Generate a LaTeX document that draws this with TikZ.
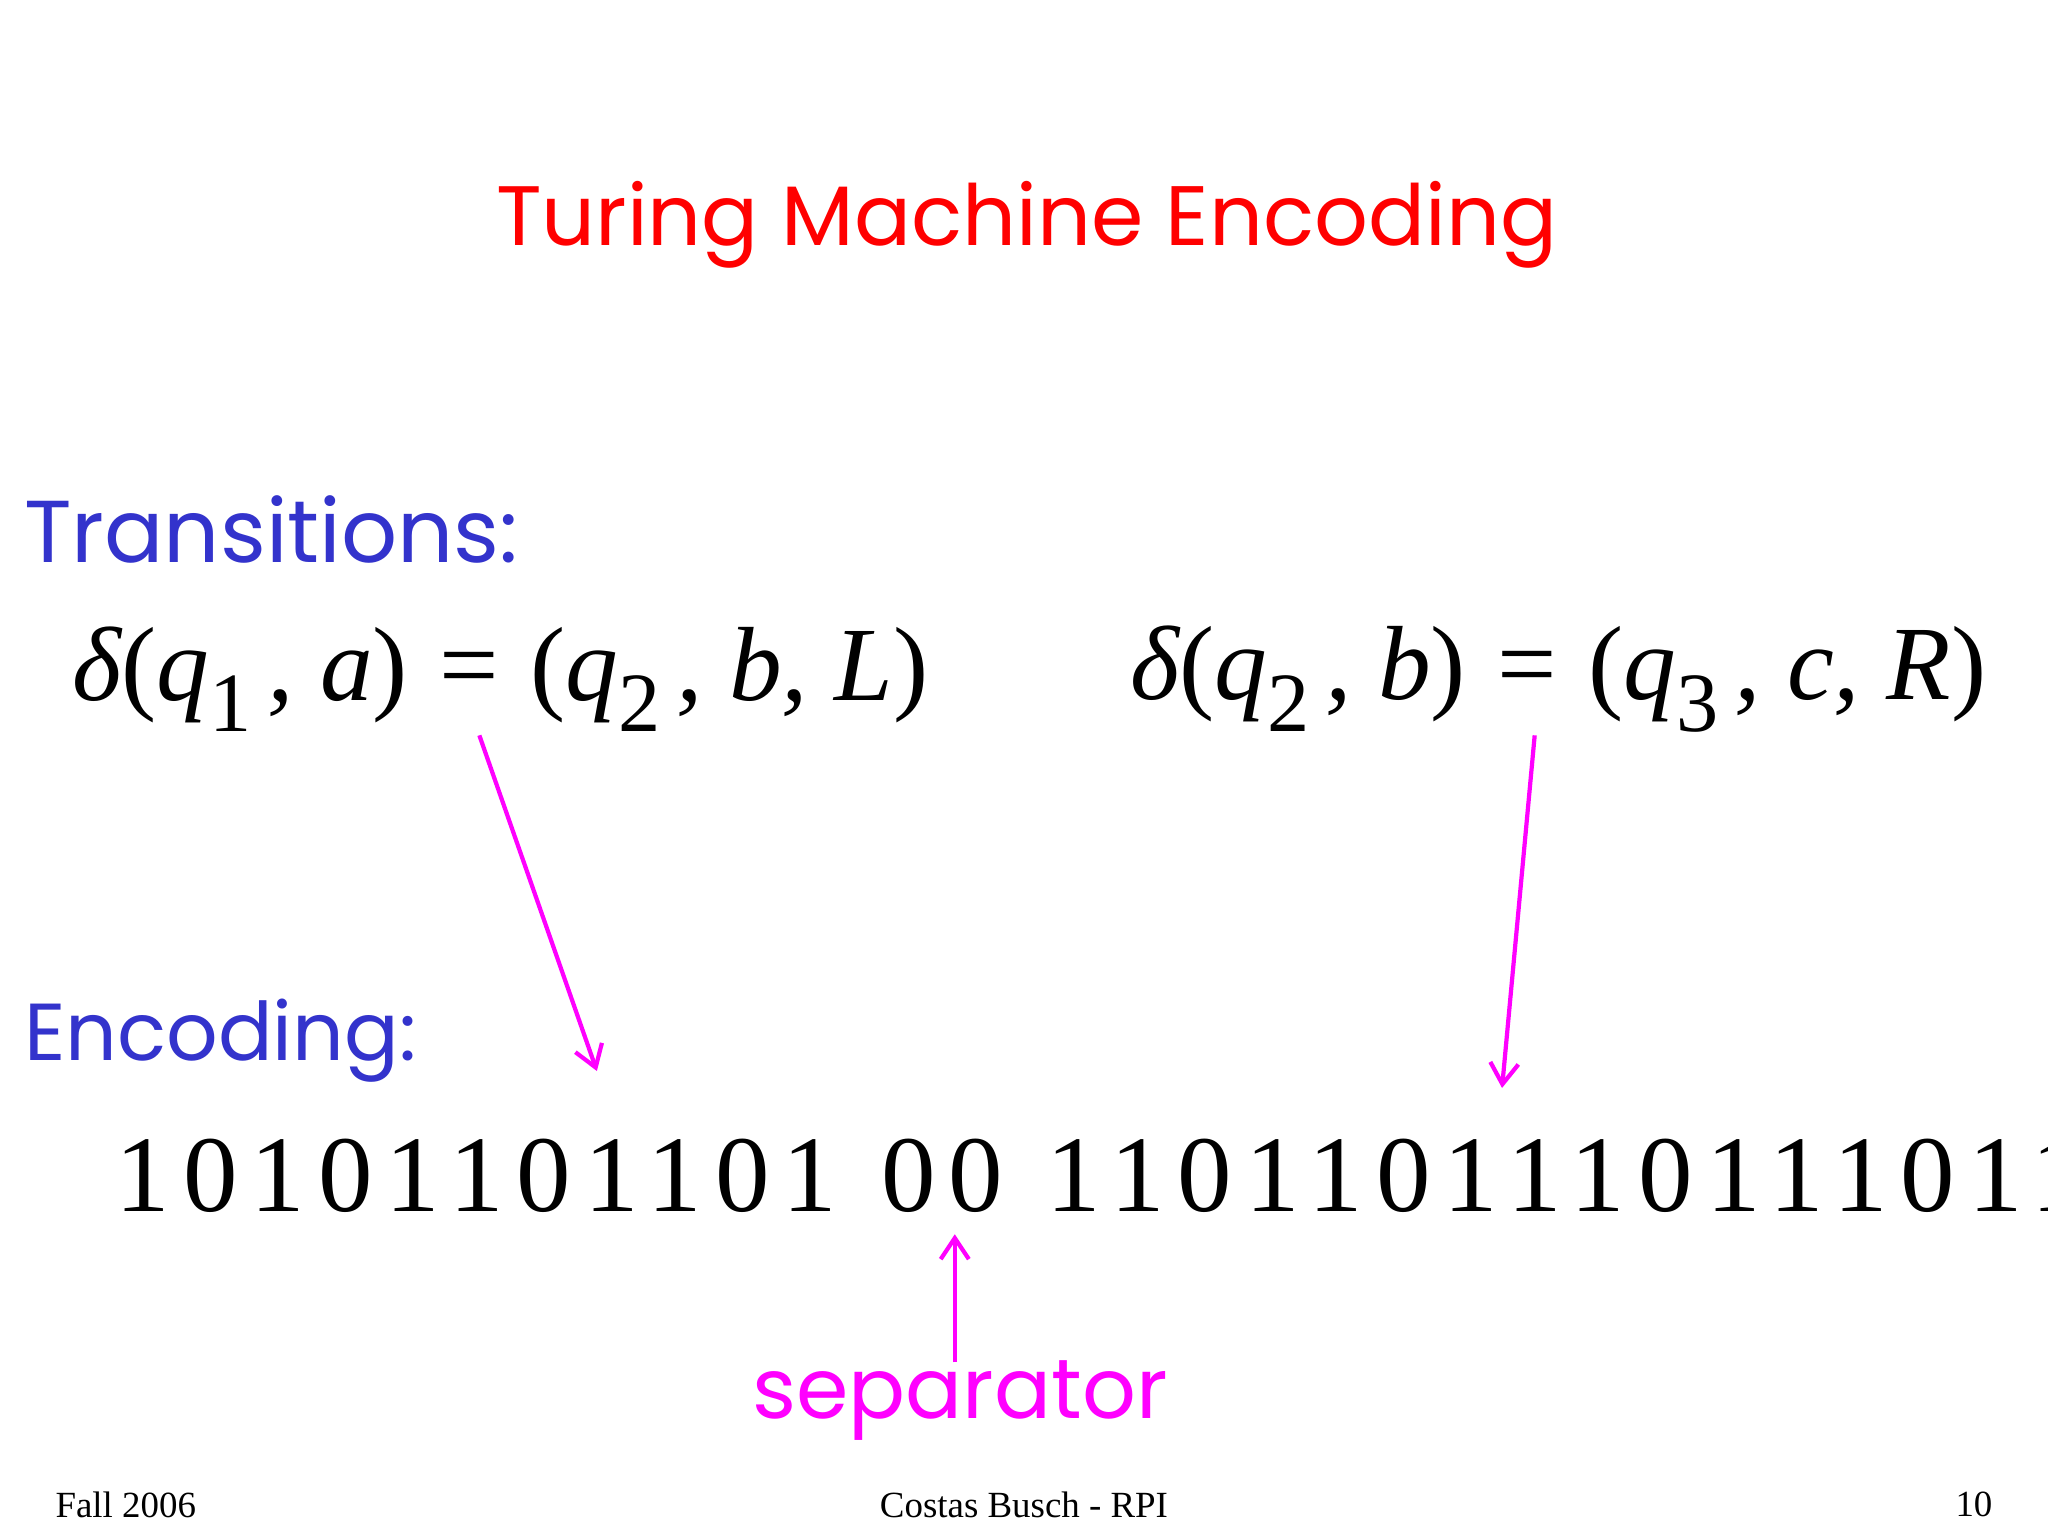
\documentclass[tikz,border=0pt]{standalone}
\usepackage{fontspec}
\usetikzlibrary{arrows.meta}
\setmainfont{Liberation Serif}
\newfontfamily\comic{Poppins}
\definecolor{tblue}{RGB}{51,51,204}
\definecolor{tmag}{RGB}{255,0,255}
\newcommand{\subx}[1]{\raisebox{-0.3em}{\fontsize{24}{26}\selectfont #1}\hspace{0.15em}}
\newcommand{\cm}{,\hspace{0.25em}}
\begin{document}
\begin{tikzpicture}[x=0.01306cm,y=-0.01306cm,
  lbl/.style={inner sep=0pt,anchor=west},
  arr/.style={draw=tmag,line width=1.2pt,-{Straight Barb[length=6pt,width=8pt]}}]
\useasboundingbox (0,0) rectangle (1568,1176);
\fill[white] (0,0) rectangle (1568,1176);
\node[inner sep=0pt,text=red] (title) at (786,172) {\comic\fontsize{24}{28}\selectfont Turing Machine Encoding};
\node[lbl,text=tblue] (tr) at (18,405) {\comic\fontsize{25}{28}\selectfont Transitions:};
\node[lbl,text=tblue] (en) at (18,797) {\comic\fontsize{23}{26}\selectfont Encoding:};
\node[lbl] (e1) at (55,520) {\fontsize{30}{34}\selectfont\itshape δ\upshape(\itshape q\upshape\subx{1}\itshape\cm a\upshape)\hspace{0.3em}=\hspace{0.3em}(\itshape q\upshape\subx{2}\itshape\cm b\cm L\upshape)};
\node[lbl] (e2) at (865,520) {\fontsize{30}{34}\selectfont\itshape δ\upshape(\itshape q\upshape\subx{2}\itshape\cm b\upshape)\hspace{0.3em}=\hspace{0.3em}(\itshape q\upshape\subx{3}\itshape\cm c\cm R\upshape)};
\node[lbl] (code) at (88,900) {\addfontfeatures{LetterSpace=12}\fontsize{31}{34}\selectfont 10101101101\hspace{0.4em}00\hspace{0.4em}110110111011101110111};
\node[inner sep=0pt,text=tmag] (sep) at (735,1072) {\comic\fontsize{24}{28}\selectfont separator};
\node[lbl] (f1) at (42,1152) {\fontsize{10.5}{12}\selectfont Fall 2006};
\node[inner sep=0pt] (f2) at (784,1152) {\fontsize{10.5}{12}\selectfont Costas Busch - RPI};
\node[inner sep=0pt,anchor=east] (f3) at (1526,1152) {\fontsize{10.5}{12}\selectfont 10};
\coordinate (a1s) at (367,563); \coordinate (a1e) at (457,820);
\coordinate (a2s) at (1175,563); \coordinate (a2e) at (1150,833);
\coordinate (a3s) at (731,1043); \coordinate (a3e) at (731,945);
\draw[arr] (a1s) -- (a1e);
\draw[arr] (a2s) -- (a2e);
\draw[arr] (a3s) -- (a3e);
\end{tikzpicture}
\end{document}
